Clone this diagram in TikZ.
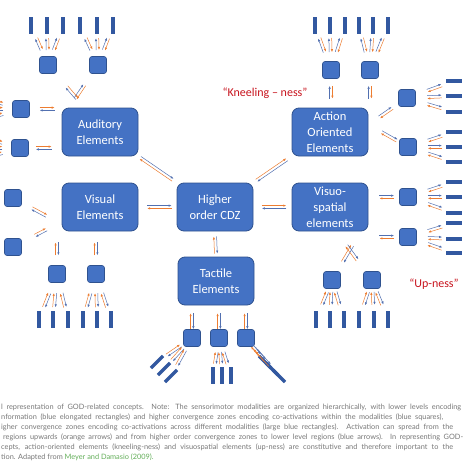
\documentclass[tikz,border=0pt]{standalone}
\usepackage{fontspec}
\setmainfont{Carlito}
\newfontfamily\capfont{Lato}
\usetikzlibrary{arrows.meta}
\usetikzlibrary{calc}
\definecolor{boxblue}{RGB}{68,114,196}
\definecolor{boxedge}{RGB}{47,82,143}
\definecolor{barblue}{RGB}{50,88,160}
\definecolor{upcol}{RGB}{237,125,49}
\definecolor{downcol}{RGB}{82,112,176}
\definecolor{nesscol}{RGB}{200,20,30}
\definecolor{captxt}{RGB}{120,120,120}
\definecolor{capref}{RGB}{100,175,90}
% orange from #1 towards #2, blue back, fractions #3..#4 of the way
\newcommand{\pairarrows}[4]{%
  \draw[uparr] ($(#1)!#3!(#2)!1.4pt!90:(#2)$) -- ($(#1)!#4!(#2)!1.4pt!90:(#2)$);
  \draw[downarr] ($(#1)!#4!(#2)!1.4pt!-90:(#2)$) -- ($(#1)!#3!(#2)!1.4pt!-90:(#2)$);
}
\newcommand{\capline}[2]{\makebox[#1][s]{#2}}

\begin{document}
\begin{tikzpicture}[x=1pt, y=-1pt,
  > = {Latex[length=3pt,width=2.3pt]},
  element/.style = {draw=boxedge, line width=0.8pt, fill=boxblue, rounded corners=7pt, minimum width=76pt, minimum height=48pt, align=center, text=white, inner sep=1pt, font=\fontsize{12.5}{16}\selectfont},
  zone/.style = {draw=boxedge, line width=0.6pt, fill=boxblue, rounded corners=2.5pt, minimum size=17pt, inner sep=0pt},
  vbar/.style = {fill=barblue, minimum width=3.3pt, minimum height=17pt, inner sep=0pt},
  hbar/.style = {fill=barblue, minimum width=16pt, minimum height=3.3pt, inner sep=0pt},
  uparr/.style = {->, draw=upcol, line width=0.5pt},
  downarr/.style = {->, draw=downcol, line width=0.5pt},
  ness/.style = {text=nesscol, font=\fontsize{12}{14}\selectfont}
  ]
  \clip (0,0) rectangle (474,474);
  \fill[white] (0,0) rectangle (474,474);

	% large convergence zones
	\node[element] (aud) at (100,132) {Auditory\\Elements};
	\node[element] (act) at (330,132) {Action\\Oriented\\Elements};
	\node[element] (vis) at (100,207) {Visual\\Elements};
	\node[element] (cdz) at (215,207) {Higher\\order CDZ};
	\node[element] (vsp) at (330,207) {Visuo-\\spatial\\elements};
	\node[element] (tac) at (216,281) {Tactile\\Elements};

	% squares
	\node[zone] (a1) at (48,65) {};
	\node[zone] (a2) at (98,65) {};
	\node[zone] (a3) at (21,109) {};
	\node[zone] (a4) at (20,148) {};
	\node[zone] (b1) at (331,70) {};
	\node[zone] (b2) at (370,70) {};
	\node[zone] (b3) at (407,98) {};
	\node[zone] (b4) at (408,147) {};
	\node[zone] (v1) at (13,198) {};
	\node[zone] (v2) at (13,247) {};
	\node[zone] (v3) at (57,274) {};
	\node[zone] (v4) at (96,274) {};
	\node[zone] (w1) at (408,197) {};
	\node[zone] (w2) at (408,237) {};
	\node[zone] (w3) at (332,280) {};
	\node[zone] (w4) at (372,280) {};
	\node[zone] (t1) at (192,338) {};
	\node[zone] (t2) at (219,338) {};
	\node[zone] (t3) at (246,338) {};

	% elongated rectangles
	\foreach \n/\x in {1/31,2/47,3/63} \node[vbar] (a1-\n) at (\x,25.5) {};
	\foreach \n/\x in {1/80,2/97,3/113} \node[vbar] (a2-\n) at (\x,25.5) {};
	\foreach \n/\y in {1/93,2/109,3/125} \node[hbar] (a3-\n) at (-35,\y) {};
	\foreach \n/\y in {1/132,2/148,3/164} \node[hbar] (a4-\n) at (-35,\y) {};
	\foreach \n/\x in {1/315,2/330,3/345} \node[vbar] (b1-\n) at (\x,25.5) {};
	\foreach \n/\x in {1/359,2/373,3/388} \node[vbar] (b2-\n) at (\x,25.5) {};
	\foreach \n/\y in {1/81,2/96,3/112} \node[hbar] (b3-\n) at (454,\y) {};
	\foreach \n/\y in {1/132,2/147,3/162} \node[hbar] (b4-\n) at (454,\y) {};
	\foreach \n/\x in {1/39,2/53,3/68} \node[vbar] (v3-\n) at (\x,319.5) {};
	\foreach \n/\x in {1/83,2/97,3/111} \node[vbar] (v4-\n) at (\x,319.5) {};
	\foreach \n/\y in {1/182,2/197,3/213} \node[hbar] (w1-\n) at (454,\y) {};
	\foreach \n/\y in {1/223,2/239,3/253} \node[hbar] (w2-\n) at (454,\y) {};
	\foreach \n/\x in {1/316,2/330,3/344} \node[vbar] (w3-\n) at (\x,319.5) {};
	\foreach \n/\x in {1/359,2/374,3/388} \node[vbar] (w4-\n) at (\x,319.5) {};
	\foreach \n/\x/\y in {1/157/362,2/164/369,3/171/376} \node[vbar,rotate=-45] (t1-\n) at (\x,\y) {};
	\foreach \n/\x in {1/213,2/222,3/231} \node[vbar] (t2-\n) at (\x,375) {};
	\foreach \n/\x/\y in {1/265/362,2/272/369,3/279/376} \node[vbar,rotate=45] (t3-\n) at (\x,\y) {};

	% ends on the large boxes
	\coordinate (audA) at ($(aud.north west)!0.6!(aud.north)$);
	\coordinate (audB) at ($(aud.north west)!0.2!(aud.north)$);
	\coordinate (audC) at (aud.west |- a3);
	\coordinate (audD) at (aud.west |- a4);
	\coordinate (actA) at (b1 |- act.north);
	\coordinate (actB) at (b2 |- act.north);
	\coordinate (actC) at ($(act.north east)!0.35!(act.south east)$);
	\coordinate (visA) at ($(vis.north west)!0.85!(vis.south west)$);
	\coordinate (visB) at ($(vis.north west)!0.8!(vis.south west)$);
	\coordinate (visC) at (v3 |- vis.south);
	\coordinate (visD) at (v4 |- vis.south);
	\coordinate (vspA) at (vsp.east |- w1);
	\coordinate (vspB) at (vsp.east |- w2);
	\coordinate (vspC) at ($(vsp.south west)!0.9!(vsp.south east)$);
	\coordinate (vspD) at ($(vsp.south west)!0.58!(vsp.south east)$);

	% rectangles <-> squares
	\foreach \s in {a1,a2} \foreach \n in {1,2,3} \pairarrows{\s-\n}{\s}{0.32}{0.62};
	\foreach \s in {a3,a4} \foreach \n in {1,2,3} \pairarrows{\s-\n}{\s}{0.3}{0.68};
	\foreach \s in {b1,b2} \foreach \n in {1,2,3} \pairarrows{\s-\n}{\s}{0.28}{0.6};
	\foreach \s in {b3,b4,w1,w2} \foreach \n in {1,2,3} \pairarrows{\s-\n}{\s}{0.26}{0.57};
	\foreach \s in {v3,v4} \foreach \n in {1,2,3} \pairarrows{\s-\n}{\s}{0.27}{0.58};
	\foreach \s in {w3,w4} \foreach \n in {1,2,3} \pairarrows{\s-\n}{\s}{0.37}{0.7};
	\foreach \s in {t1,t3} \foreach \n in {1,2,3} \pairarrows{\s-\n}{\s}{0.28}{0.68};
	\foreach \n in {1,2,3} \pairarrows{t2-\n}{t2}{0.3}{0.62};

	% squares <-> large boxes
	\pairarrows{a1}{audA}{0.51}{0.79}
	\pairarrows{a2}{audB}{0.47}{0.79}
	\pairarrows{a3}{audC}{0.46}{0.83}
	\pairarrows{a4}{audD}{0.38}{0.76}
	\pairarrows{b1}{actA}{0.42}{0.76}
	\pairarrows{b2}{actB}{0.42}{0.76}
	\pairarrows{b3}{actC}{0.38}{0.72}
	\pairarrows{b4}{actC}{0.28}{0.67}
	\pairarrows{v1}{visA}{0.39}{0.69}
	\pairarrows{v2}{visB}{0.45}{0.69}
	\pairarrows{v3}{visC}{0.44}{0.74}
	\pairarrows{v4}{visD}{0.44}{0.74}
	\pairarrows{w1}{vspA}{0.35}{0.72}
	\pairarrows{w2}{vspB}{0.35}{0.72}
	\pairarrows{w3}{vspC}{0.37}{0.71}
	\pairarrows{w4}{vspD}{0.41}{0.71}
	\foreach \n in {1,2,3} {
		\coordinate (tac\n) at (t\n |- tac.south);
		\pairarrows{t\n}{tac\n}{0.27}{0.76}
	}

	% large boxes <-> higher order CDZ
	\pairarrows{cdz.north west}{aud.south east}{0.1}{0.95}
	\pairarrows{cdz.north east}{act.south west}{0.08}{0.88}
	\pairarrows{cdz.west}{vis.east}{0.13}{0.77}
	\pairarrows{cdz.east}{vsp.west}{0.22}{0.86}
	\pairarrows{tac.north}{cdz.south}{0.12}{0.8}

	\node[ness] (kneel) at (265,93) {“Kneeling – ness”};
	\node[ness] (upness) at (434,284) {“Up-ness”};

	\node[anchor=north west, align=left, inner sep=0pt, text=captxt, font=\capfont\fontsize{7.35}{9.9}\selectfont] (caption) at (1,404) {%
		\capline{460pt}{l representation of GOD-related concepts. Note: The sensorimotor modalities are organized hierarchically, with lower levels encoding}\\
		\capline{442pt}{nformation (blue elongated rectangles) and higher convergence zones encoding co-activations within the modalities (blue squares),}\\
		\capline{452pt}{igher convergence zones encoding co-activations across different modalities (large blue rectangles). Activation can spread from the}\\
		\capline{462pt}{\hspace{2pt}regions upwards (orange arrows) and from higher order convergence zones to lower level regions (blue arrows). In representing GOD-}\\
		\capline{452pt}{cepts, action-oriented elements (kneeling-ness) and visuospatial elements (up-ness) are constitutive and therefore important to the}\\
		tion. Adapted from \textcolor{capref}{Meyer and Damasio (2009).}};

\end{tikzpicture}
\end{document}
